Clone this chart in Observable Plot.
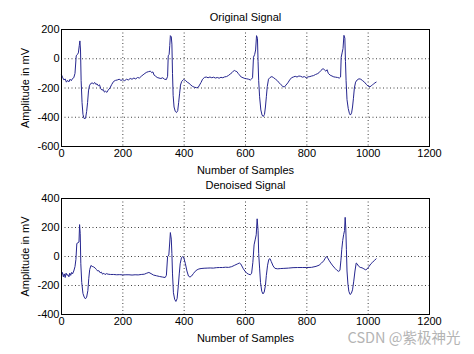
<!DOCTYPE html>
<html>
<head>
<meta charset="utf-8">
<script src="https://cdn.jsdelivr.net/npm/d3@7"></script>
<script src="https://cdn.jsdelivr.net/npm/@observablehq/plot@0.6"></script>
<style>
  html, body { margin: 0; padding: 0; background: #fff; }
  #chart { width: 474px; height: 354px; }
  #chart svg { display: block; }
</style>
</head>
<body>
<div id="chart"></div>
<script>
const titles = ["Original Signal", "Denoised Signal"];
const xLabel = "Number of Samples";
const yLabel = "Amplitude in mV";
const watermark = "CSDN @紫极神光";
const xTicks = [0, 200, 400, 600, 800, 1000, 1200];
const yTicksOrig = [-600, -400, -200, 0, 200];
const yTicksDen = [-400, -200, 0, 200, 400];

const origX = [0,4,8,12,16,20,24,28,32,36,40,44,48,52,55,58,60,62,64,67,70,73,76,79,82,85,88,91,95,100,104,108,112,116,120,124,128,132,136,140,144,148,152,158,164,170,176,182,188,194,200,206,212,218,224,230,236,242,248,254,260,266,272,278,284,290,294,298,302,306,312,318,324,330,336,342,346,348,351,353,355,358,360,362,364,367,371,375,379,382,385,388,392,398,404,410,416,422,428,434,440,446,450,455,460,466,472,478,484,490,496,502,508,514,520,526,532,538,544,550,556,560,564,568,572,576,580,586,592,598,604,610,616,620,623,626,630,633,636,639,641,643,646,650,654,658,662,665,668,671,675,680,686,692,698,704,710,716,722,727,732,738,744,750,756,762,768,774,780,786,792,798,804,810,816,822,828,834,840,846,850,854,858,862,866,870,876,882,888,894,900,906,910,912,915,918,921,924,926,928,931,935,939,942,946,949,952,955,959,964,970,976,982,988,994,1000,1006,1010,1014,1018,1022,1026];
const origY = [-110,-130,-145,-138,-160,-148,-158,-140,-150,-135,-130,-100,20,30,40,90,122,60,-150,-300,-380,-405,-412,-400,-360,-300,-220,-185,-170,-165,-172,-162,-175,-172,-185,-178,-205,-215,-210,-228,-222,-230,-215,-200,-175,-155,-148,-145,-140,-148,-143,-150,-140,-145,-135,-140,-132,-138,-128,-132,-120,-110,-100,-92,-88,-85,-95,-90,-112,-118,-128,-132,-135,-130,-140,-142,-120,20,30,90,158,150,100,-100,-250,-330,-360,-368,-355,-300,-240,-180,-155,-142,-148,-160,-168,-180,-190,-195,-198,-195,-180,-162,-140,-128,-125,-130,-125,-130,-126,-132,-128,-133,-127,-130,-124,-122,-115,-105,-95,-85,-80,-85,-88,-100,-110,-125,-130,-135,-137,-140,-145,-138,-130,10,30,60,158,140,-20,-150,-260,-350,-385,-395,-380,-330,-260,-190,-140,-128,-122,-130,-140,-150,-165,-178,-190,-193,-180,-165,-145,-130,-125,-120,-125,-118,-120,-126,-122,-130,-124,-122,-118,-115,-108,-103,-95,-80,-72,-68,-78,-85,-75,-100,-112,-118,-124,-126,-128,-132,-125,10,40,70,160,140,-20,-150,-280,-340,-375,-385,-370,-330,-270,-200,-160,-145,-137,-140,-150,-160,-175,-188,-192,-185,-178,-172,-165,-160];

const denX = [0,3,6,9,12,15,18,21,24,27,30,33,36,40,44,47,50,54,57,59,61,63,66,70,74,78,82,86,89,92,96,100,105,110,114,118,122,126,130,134,138,142,146,152,160,170,180,190,200,210,220,230,240,250,260,270,278,285,292,300,310,320,330,338,342,346,350,353,355,358,360,362,365,369,373,377,381,384,387,391,395,399,404,409,414,419,424,430,436,442,448,455,465,475,485,495,505,515,525,535,545,555,565,573,580,584,588,593,598,604,610,616,620,624,628,632,635,638,641,643,646,649,653,657,661,665,668,672,676,680,684,690,696,705,715,725,740,755,770,785,800,815,830,840,848,855,860,864,868,872,878,885,892,898,904,908,911,914,917,920,923,925,927,929,931,934,937,941,945,949,953,957,961,964,968,974,980,986,992,997,1003,1009,1015,1020,1026];
const denY = [-125,-110,-140,-120,-145,-115,-130,-125,-140,-115,-130,-110,-120,-100,-70,-20,90,95,100,220,160,-50,-180,-255,-280,-292,-280,-235,-150,-90,-62,-68,-72,-80,-90,-100,-98,-112,-108,-122,-115,-125,-118,-122,-124,-124,-126,-125,-127,-126,-126,-128,-126,-127,-124,-122,-115,-110,-118,-128,-133,-138,-142,-145,-130,0,10,100,165,120,20,-120,-250,-295,-310,-290,-200,-120,-50,-10,0,-10,-50,-100,-135,-142,-135,-118,-102,-92,-86,-83,-81,-80,-79,-80,-77,-76,-76,-74,-75,-70,-60,-52,-45,-50,-65,-85,-100,-115,-122,-126,-115,-40,80,120,150,260,180,20,-80,-180,-240,-258,-245,-200,-130,-60,-20,-15,-35,-65,-82,-85,-83,-82,-80,-77,-76,-76,-76,-75,-68,-60,-45,-30,-12,0,-10,-25,-45,-65,-82,-95,-103,-95,-30,50,110,150,180,270,200,50,-100,-190,-240,-262,-255,-230,-170,-100,-45,-50,-65,-75,-78,-85,-92,-85,-68,-50,-38,-28,-16];

const lineColor = "#26268f";
const font = "'Liberation Sans', Arial, sans-serif";
const fmt = d => String(d);

function panel(xs, ys, yTicks, title, mt, mb, titleDy, showMark) {
  const data = xs.map((x, i) => ({x, y: ys[i]}));
  const marks = [
    Plot.gridX(xTicks.slice(1, -1), {stroke: "#000", strokeOpacity: 0.75, strokeDasharray: "1,2.5"}),
    Plot.gridY(yTicks.slice(1, -1), {stroke: "#000", strokeOpacity: 0.75, strokeDasharray: "1,2.5"}),
    Plot.axisX({ticks: xTicks, tickSize: 0, tickPadding: 3, tickFormat: fmt, label: null, fontSize: 11}),
    Plot.axisY({ticks: yTicks, tickSize: 0, tickPadding: 2, tickFormat: fmt, label: null, fontSize: 11}),
    Plot.line(data, {x: "x", y: "y", stroke: lineColor, strokeWidth: 1}),
    Plot.frame({stroke: "#000", strokeWidth: 1}),
    Plot.text([title], {frameAnchor: "top", dy: titleDy, lineAnchor: "middle", fontSize: 11}),
    Plot.text([xLabel], {frameAnchor: "bottom", dy: 24, lineAnchor: "middle", fontSize: 11}),
    Plot.text([yLabel], {frameAnchor: "left", dx: -36, rotate: -90, textAnchor: "middle", lineAnchor: "middle", fontSize: 11})
  ];
  if (showMark) {
    marks.push(Plot.text([watermark], {frameAnchor: "bottom-right", dx: 31, dy: 24, textAnchor: "end", lineAnchor: "middle", fontSize: 14.5, fill: "#b4b4b4", fontFamily: "'Noto Sans CJK SC', 'Noto Sans', sans-serif"}));
  }
  return Plot.plot({
    width: 474,
    height: 177,
    marginLeft: 61,
    marginRight: 45,
    marginTop: mt,
    marginBottom: mb,
    style: {fontFamily: font, fontSize: "11px", background: "#fff", color: "#000", overflow: "visible"},
    x: {domain: [0, 1200]},
    y: {domain: [yTicks[0], yTicks[yTicks.length - 1]]},
    marks
  });
}

const root = document.getElementById("chart");
root.append(panel(origX, origY, yTicksOrig, titles[0], 29, 31, -12, false));
root.append(panel(denX, denY, yTicksDen, titles[1], 21, 40, -13, true));
</script>
</body>
</html>
